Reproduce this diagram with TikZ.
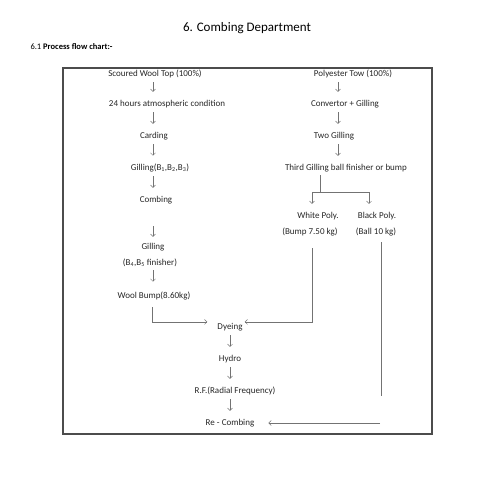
\documentclass[tikz,border=0pt]{standalone}
\usepackage{fontspec}
\setmainfont{Carlito}
\usetikzlibrary{arrows.meta}

\tikzset{
  stage/.style={inner sep=1pt, font=\fontsize{9}{10}\selectfont, text=black!85},
  flow/.style={->, draw=black!55, line width=0.5pt, shorten <=3pt, shorten >=7pt},
  feed/.style={draw=black!55, line width=0.5pt},
}

\begin{document}
\begin{tikzpicture}[x=1pt, y=-1pt, >={Straight Barb[length=2.5pt,width=5pt]}]
    \useasboundingbox (0,0) rectangle (495,495);

    % Heading
    \node[font=\fontsize{13}{15}\selectfont] (title) at (247,28) {6. Combing Department};
    \node[anchor=west, font=\fontsize{8.5}{10}\selectfont] (sub) at (27,47) {6.1 \textbf{Process flow chart:-}};
    \draw[black!70, line width=1.2pt] (63,68) rectangle (432,434);

    % Wool line
    \node[stage] (scour) at (155,74) {Scoured Wool Top (100\%)};
    \node[stage] (hours) at (167,104) {24 hours atmospheric condition};
    \node[stage] (card) at (154,136) {Carding};
    \node[stage] (gill) at (160,168) {Gilling(B\textsubscript{1},B\textsubscript{2},B\textsubscript{3})};
    \node[stage] (comb) at (156,200) {Combing};
    \node[stage] (gillb) at (153,247) {Gilling};
    \node[stage] (fin) at (150,263) {(B\textsubscript{4},B\textsubscript{5} finisher)};
    \node[stage] (wbump) at (154,296) {Wool Bump(8.60kg)};
    \coordinate (lx) at (153,0);
    \draw[flow] (scour.south -| lx) -- (hours.north -| lx);
    \draw[flow] (hours.south -| lx) -- (card.north -| lx);
    \draw[flow] (card.south -| lx) -- (gill.north -| lx);
    \draw[flow] (gill.south -| lx) -- (comb.north -| lx);
    \draw[flow, shorten <=21pt, shorten >=5pt] (comb.south -| lx) -- (gillb.north -| lx);
    \draw[flow, shorten <=2pt, shorten >=9pt] (fin.south -| lx) -- (wbump.north -| lx);

    % Polyester line
    \node[stage] (poly) at (353,74) {Polyester Tow (100\%)};
    \node[stage] (conv) at (345,104) {Convertor + Gilling};
    \node[stage] (two) at (334,136) {Two Gilling};
    \node[stage] (third) at (346,168) {Third Gilling ball finisher or bump};
    \node[stage] (white) at (318,216) {White Poly.};
    \node[stage] (black) at (377,216) {Black Poly.};
    \node[stage] (wkg) at (310,232) {(Bump 7.50 kg)};
    \node[stage] (bkg) at (376,232) {(Ball 10 kg)};
    \coordinate (rx) at (338,0);
    \draw[flow] (poly.south -| rx) -- (conv.north -| rx);
    \draw[flow] (conv.south -| rx) -- (two.north -| rx);
    \draw[flow] (two.south -| rx) -- (third.north -| rx);
    \coordinate (split) at (320,192);
    \coordinate (wx) at (312,0);
    \coordinate (bx) at (369,0);
    \draw[feed, shorten <=2pt] (third.south -| split) -- (split);
    \draw[feed] (split -| wx) -- (split -| bx);
    \draw[flow, shorten <=0pt] (split -| wx) -- (white.north -| wx);
    \draw[flow, shorten <=0pt] (split -| bx) -- (black.north -| bx);

    % Common line
    \node[stage] (dye) at (230,327) {Dyeing};
    \node[stage] (hydro) at (230,359) {Hydro};
    \node[stage] (rf) at (235,391) {R.F.(Radial Frequency)};
    \node[stage] (recomb) at (230,423) {Re - Combing};
    \draw[flow, shorten <=6pt, shorten >=9pt] (wbump.south -| 152,0) |- (dye.north west);
    \draw[flow, shorten <=11pt, shorten >=1pt] (wkg.south -| wx) |- (dye.north east);
    \coordinate (bend) at (381,396);
    \coordinate (ret) at (380,423);
    \draw[feed, shorten <=5pt] (bkg.south -| bend) -- (bend);
    \draw[flow, shorten <=0pt, shorten >=13pt] (ret) -- (recomb.east);
    \draw[flow] (dye.south) -- (hydro.north);
    \draw[flow] (hydro.south) -- (hydro.south |- rf.north);
    \draw[flow] (hydro.south |- rf.south) -- (recomb.north);
\end{tikzpicture}
\end{document}
